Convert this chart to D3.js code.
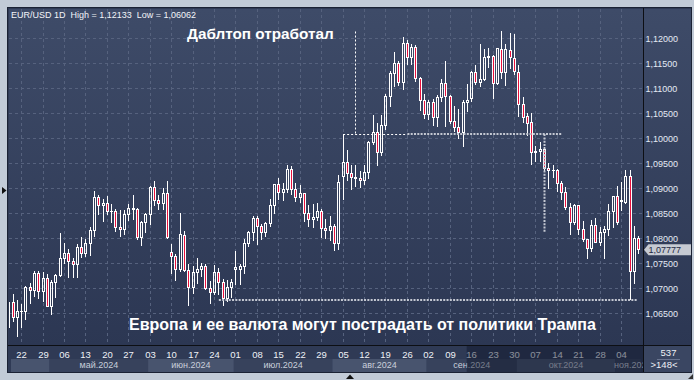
<!DOCTYPE html>
<html><head><meta charset="utf-8">
<script src="https://cdn.jsdelivr.net/npm/d3@7"></script>
<style>
html,body{margin:0;padding:0;background:#c2cbd7;}
svg{display:block;font-family:"Liberation Sans",Arial,sans-serif;}
</style>
</head><body>
<svg id="chart" width="694" height="380"></svg>
<script>
// ---------- DATA ----------
// trading days (category axis) 17 Apr 2024 .. 8 Nov 2024
const dates = d3.timeDays(new Date(2024,3,17), new Date(2024,10,9)).filter(d => d.getDay() % 6 !== 0);
const open = [
1.0622,1.0672,1.0643,1.0655,1.0654,1.0703,1.0697,1.0730,1.0694,1.0720,
1.0665,1.0713,1.0727,1.0761,1.0770,1.0754,1.0748,1.0783,1.0770,1.0790,
1.0817,1.0882,1.0866,1.0871,1.0855,1.0855,1.0822,1.0818,1.0848,1.0860,
1.0858,1.0802,1.0832,1.0848,1.0903,1.0877,1.0871,1.0891,1.0772,1.0765,
1.0739,1.0806,1.0737,1.0703,1.0732,1.0738,1.0745,1.0700,1.0692,1.0733,
1.0713,1.0680,1.0703,1.0738,1.0738,1.0745,1.0790,1.0812,1.0840,1.0825,
1.0813,1.0830,1.0867,1.0908,1.0893,1.0899,1.0938,1.0899,1.0882,1.0890,
1.0850,1.0838,1.0843,1.0855,1.0820,1.0816,1.0825,1.0790,1.0925,1.0952,
1.0930,1.0922,1.0920,1.0916,1.0932,1.0992,1.1012,1.0972,1.1027,1.1085,
1.1130,1.1150,1.1112,1.1191,1.1163,1.1183,1.1120,1.1077,1.1049,1.1073,
1.1043,1.1082,1.1110,1.1085,1.1035,1.1022,1.1013,1.1073,1.1080,1.1133,
1.1113,1.1118,1.1162,1.1165,1.1111,1.1178,1.1133,1.1177,1.1160,1.1133,
1.1068,1.1045,1.1033,1.0973,1.0975,1.0978,1.0940,1.0936,1.0937,1.0910,
1.0892,1.0862,1.0832,1.0866,1.0818,1.0798,1.0780,1.0827,1.0793,1.0813,
1.0818,1.0855,1.0885,1.0877,1.0873,1.0925,1.0735,1.0800];
const high = [
1.0692,1.0690,1.0677,1.0670,1.0705,1.0711,1.0735,1.0736,1.0733,1.0730,
1.0718,1.0730,1.0812,1.0791,1.0779,1.0762,1.0790,1.0804,1.0800,1.0824,
1.0895,1.0887,1.0880,1.0885,1.0869,1.0860,1.0858,1.0858,1.0870,1.0888,
1.0862,1.0836,1.0852,1.0905,1.0915,1.0887,1.0902,1.0916,1.0790,1.0770,
1.0852,1.0815,1.0750,1.0745,1.0761,1.0752,1.0749,1.0716,1.0747,1.0741,
1.0720,1.0718,1.0720,1.0776,1.0750,1.0800,1.0816,1.0845,1.0845,1.0830,
1.0834,1.0880,1.0910,1.0922,1.0912,1.0948,1.0945,1.0912,1.0908,1.0890,
1.0868,1.0870,1.0871,1.0859,1.0839,1.0846,1.0830,1.0927,1.1009,1.0977,
1.0947,1.0947,1.0935,1.0947,1.0995,1.1047,1.1031,1.1048,1.1089,1.1135,
1.1174,1.1155,1.1202,1.1198,1.1190,1.1187,1.1123,1.1090,1.1078,1.1079,
1.1088,1.1120,1.1155,1.1087,1.1066,1.1059,1.1078,1.1110,1.1136,1.1148,
1.1189,1.1180,1.1182,1.1167,1.1182,1.1214,1.1190,1.1210,1.1209,1.1148,
1.1083,1.1052,1.1051,1.0985,1.0994,1.0983,1.0952,1.0948,1.0940,1.0915,
1.0904,1.0871,1.0870,1.0866,1.0836,1.0800,1.0837,1.0842,1.0823,1.0825,
1.0870,1.0885,1.0905,1.0914,1.0937,1.0937,1.0825,1.0806];
const low = [
1.0617,1.0636,1.0606,1.0623,1.0640,1.0671,1.0685,1.0682,1.0675,1.0667,
1.0650,1.0683,1.0725,1.0751,1.0724,1.0723,1.0724,1.0763,1.0765,1.0768,
1.0805,1.0849,1.0835,1.0850,1.0834,1.0816,1.0805,1.0810,1.0838,1.0840,
1.0800,1.0788,1.0814,1.0830,1.0867,1.0860,1.0860,1.0801,1.0732,1.0718,
1.0735,1.0736,1.0668,1.0692,1.0712,1.0725,1.0700,1.0671,1.0690,1.0690,
1.0667,1.0676,1.0683,1.0710,1.0710,1.0732,1.0785,1.0797,1.0790,1.0800,
1.0806,1.0825,1.0852,1.0880,1.0877,1.0893,1.0890,1.0875,1.0874,1.0835,
1.0826,1.0824,1.0838,1.0803,1.0802,1.0797,1.0777,1.0780,1.0880,1.0917,
1.0900,1.0906,1.0904,1.0910,1.0922,1.0990,1.0947,1.0968,1.1020,1.1065,
1.1105,1.1108,1.1100,1.1150,1.1150,1.1115,1.1058,1.1041,1.1040,1.1027,
1.1025,1.1075,1.1026,1.1031,1.1015,1.1001,1.0985,1.1055,1.1075,1.1110,
1.1105,1.1117,1.1143,1.1082,1.1109,1.1122,1.1108,1.1141,1.1130,1.1045,
1.1034,1.1008,1.0950,1.0955,1.0955,1.0935,1.0902,1.0924,1.0895,1.0880,
1.0860,1.0810,1.0830,1.0810,1.0795,1.0761,1.0775,1.0808,1.0788,1.0761,
1.0807,1.0824,1.0830,1.0858,1.0872,1.0680,1.0711,1.0771];
const close = [
1.0672,1.0643,1.0655,1.0654,1.0703,1.0697,1.0730,1.0694,1.0720,1.0665,
1.0713,1.0727,1.0761,1.0770,1.0754,1.0748,1.0783,1.0770,1.0790,1.0817,
1.0882,1.0866,1.0871,1.0855,1.0855,1.0822,1.0818,1.0848,1.0860,1.0858,
1.0802,1.0832,1.0848,1.0903,1.0877,1.0871,1.0891,1.0802,1.0765,1.0739,
1.0809,1.0737,1.0703,1.0732,1.0738,1.0745,1.0700,1.0692,1.0733,1.0713,
1.0680,1.0703,1.0713,1.0742,1.0745,1.0790,1.0812,1.0840,1.0825,1.0813,
1.0830,1.0867,1.0908,1.0893,1.0899,1.0938,1.0899,1.0882,1.0890,1.0850,
1.0838,1.0843,1.0855,1.0820,1.0816,1.0825,1.0790,1.0912,1.0952,1.0930,
1.0922,1.0920,1.0916,1.0932,1.0992,1.1012,1.0972,1.1027,1.1085,1.1130,
1.1150,1.1112,1.1191,1.1163,1.1183,1.1120,1.1077,1.1049,1.1073,1.1043,
1.1082,1.1110,1.1085,1.1035,1.1022,1.1013,1.1073,1.1076,1.1133,1.1113,
1.1118,1.1162,1.1164,1.1111,1.1180,1.1133,1.1178,1.1162,1.1135,1.1069,
1.1043,1.1031,1.0973,1.0975,1.0978,1.0940,1.0936,1.0937,1.0910,1.0892,
1.0862,1.0832,1.0866,1.0818,1.0798,1.0780,1.0827,1.0793,1.0813,1.0818,
1.0855,1.0885,1.0833,1.0875,1.0925,1.0735,1.0800,1.07777];
const yTicks = [1.065,1.070,1.075,1.080,1.085,1.090,1.095,1.100,1.105,1.110,1.115,1.120];
const monthNames = ["янв.","фев.","мар.","апр.","май.","июн.","июл.","авг.","сен.","окт.","ноя.","дек."];
const lastPrice = 1.07777;
const infoText = "EUR/USD 1D  High = 1,12133  Low = 1,06062";
const titleTop = "Даблтоп отработал";
const titleBottom = "Европа и ее валюта могут пострадать от политики Трампа";
// annotation levels
const neckLevel = 1.1009, topLevel = 1.1214, targetLevel = 1.0814, supportLevel = 1.0678;

// ---------- LAYOUT ----------
const W = 694, H = 380;
const L = 9, R = 643, T = 9, B = 345;
const svg = d3.select("#chart");
const fmtD = d3.timeFormat("%Y-%m-%d");
const keys = dates.map(fmtD);
const N = keys.length;
const step = 600/140;
const x = d3.scalePoint().domain(keys).range([8.84, 8.84 + (N-1)*step]);
const y = d3.scaleLinear().domain([1.06, 1.12]).range([338.8, 38.5]);
const px = k => Math.round(x(k) - 0.5);
const crisp = v => Math.round(v) + 0.5;

const defs = svg.append("defs");
const grad = defs.append("linearGradient").attr("id","bg").attr("x1",0).attr("x2",0).attr("y1",0).attr("y2",1);
grad.append("stop").attr("offset","0%").attr("stop-color","#3e4b68");
grad.append("stop").attr("offset","100%").attr("stop-color","#2c3753");
defs.append("clipPath").attr("id","plotclip").append("rect").attr("x",L).attr("y",T).attr("width",R-L).attr("height",B-T);
defs.append("clipPath").attr("id","axclip").append("rect").attr("x",L).attr("y",B).attr("width",R-L).attr("height",28);

// outer frame
svg.append("rect").attr("width",W).attr("height",H).attr("fill","#c2cbd7");
svg.append("rect").attr("x",8).attr("y",8).attr("width",683).attr("height",364).attr("fill","#2f3a55");
svg.append("rect").attr("x",L).attr("y",T).attr("width",R-L).attr("height",B-T).attr("fill","url(#bg)");
svg.append("rect").attr("x",R).attr("y",T).attr("width",691-R).attr("height",B-T).attr("fill","url(#bg)");
svg.append("rect").attr("x",7.5).attr("y",7.5).attr("width",684).attr("height",365).attr("fill","none").attr("stroke","#1b2234");

// grid
const grid = svg.append("g").attr("stroke","#56627e").attr("stroke-dasharray","3,3").attr("stroke-width",1);
grid.selectAll("line.h").data(yTicks).join("line")
  .attr("x1",L).attr("x2",R).attr("y1",d=>crisp(y(d)-0.5)).attr("y2",d=>crisp(y(d)-0.5));
const mondays = dates.filter(d => d.getDay() === 1).map(fmtD);
grid.selectAll("line.v").data(mondays).join("line")
  .attr("x1",d=>px(d)+0.5).attr("x2",d=>px(d)+0.5).attr("y1",T).attr("y2",B);

// candles
const candles = dates.map((d,i) => ({k:keys[i], o:open[i], h:high[i], l:low[i], c:close[i]}));
const cg = svg.append("g").attr("clip-path","url(#plotclip)");
candles.forEach(d => {
  const p = px(d.k);
  const yt = crisp(y(Math.max(d.o,d.c)) - 0.5), yb = crisp(y(Math.min(d.o,d.c)) - 0.5);
  const yh = Math.round(y(d.h)), yl = Math.round(y(d.l));
  cg.append("line").attr("x1",p+0.5).attr("x2",p+0.5).attr("y1",yh).attr("y2",yt).attr("stroke","#fff");
  cg.append("line").attr("x1",p+0.5).attr("x2",p+0.5).attr("y1",yb).attr("y2",yl+1).attr("stroke","#fff");
  if (yb - yt < 1) {
    cg.append("line").attr("x1",p-1).attr("x2",p+2).attr("y1",yt).attr("y2",yt).attr("stroke","#fff");
  } else {
    cg.append("rect").attr("x",p-0.5).attr("y",yt).attr("width",2).attr("height",yb-yt)
      .attr("fill", d.c < d.o ? "#e8103c" : "none").attr("stroke","#fff").attr("stroke-width",1);
  }
});

// annotations
const ann = svg.append("g").attr("clip-path","url(#plotclip)").attr("fill","none");
ann.append("line").attr("x1",x("2024-08-05")).attr("x2",x("2024-08-26"))
  .attr("y1",crisp(y(neckLevel))).attr("y2",crisp(y(neckLevel)))
  .attr("stroke","#ffffff").attr("stroke-dasharray","2,2");
ann.append("line").attr("x1",px("2024-08-08")+0.5).attr("x2",px("2024-08-08")+0.5)
  .attr("y1",y(topLevel)).attr("y2",y(neckLevel))
  .attr("stroke","#ffffff").attr("stroke-dasharray","2,2");
const thick = {stroke:"#c4c8d2", w:2, dash:"2,1.3"};
ann.append("line").attr("x1",x("2024-08-26")).attr("x2",x("2024-10-15"))
  .attr("y1",Math.round(y(neckLevel))).attr("y2",Math.round(y(neckLevel)))
  .attr("stroke",thick.stroke).attr("stroke-width",thick.w).attr("stroke-dasharray",thick.dash);
ann.append("line").attr("x1",px("2024-10-09")+0.5).attr("x2",px("2024-10-09")+0.5)
  .attr("y1",y(neckLevel)).attr("y2",y(targetLevel))
  .attr("stroke",thick.stroke).attr("stroke-width",thick.w).attr("stroke-dasharray",thick.dash);
ann.append("line").attr("x1",x("2024-06-25")).attr("x2",x("2024-11-08")-2)
  .attr("y1",Math.round(y(supportLevel))).attr("y2",Math.round(y(supportLevel)))
  .attr("stroke",thick.stroke).attr("stroke-width",thick.w).attr("stroke-dasharray",thick.dash);

// titles
svg.append("text").attr("x",187).attr("y",39).attr("fill","#fff").attr("font-weight","bold")
  .attr("font-size",15.3).text(titleTop);
svg.append("text").attr("x",129).attr("y",329.5).attr("fill","#fff").attr("font-weight","bold")
  .attr("font-size",16).text(titleBottom);
svg.append("text").attr("x",11).attr("y",18).attr("fill","#f2f4f8").attr("font-size",9)
  .attr("xml:space","preserve").text(infoText);

// axis lines
svg.append("line").attr("x1",R+0.5).attr("x2",R+0.5).attr("y1",8).attr("y2",372).attr("stroke","#0d0f14");
svg.append("line").attr("x1",8).attr("x2",691).attr("y1",B+0.5).attr("y2",B+0.5).attr("stroke","#0d0f14");

// y labels
const fmtP = v => d3.format(".5f")(v).replace(".", ",");
svg.append("g").selectAll("text").data(yTicks).join("text")
  .attr("x",645.5).attr("y",d=>y(d)+3).attr("fill","#e4eaf4").attr("font-size",9).text(fmtP);

// last price tag
const yp = y(lastPrice);
svg.append("path").attr("d",`M644,${yp} L648.5,${yp-5.5} L691,${yp-5.5} L691,${yp+5.5} L648.5,${yp+5.5} Z`)
  .attr("fill","#c6cad2");
svg.append("text").attr("x",648.5).attr("y",yp+3.2).attr("fill","#1d2842").attr("font-size",9).text(fmtP(lastPrice));

// x axis: month bands
const months = d3.groups(keys, k => k.slice(0,7));
const bandG = svg.append("g").attr("clip-path","url(#axclip)");
months.forEach(([m, ks], i) => {
  const x0 = Math.max(11, x(ks[0]) - step/2), x1 = x(ks[ks.length-1]) + step/2;
  bandG.append("rect").attr("x",x0).attr("y",359).attr("width",x1-x0).attr("height",13)
    .attr("fill", i % 2 === 0 ? "#48546e" : "#37425c");
  const mi = +m.slice(5,7) - 1;
  const label = monthNames[mi] + m.slice(0,4);
  if (i > 0) {
    const cx = i === months.length - 1 ? x0 + 17.5 : (x0 + x1) / 2;
    bandG.append("text").attr("x",cx).attr("y",367.7).attr("text-anchor","middle")
      .attr("fill","#c8cfdb").attr("font-size",9).text(label);
  }
});
// day labels
svg.append("g").selectAll("text").data(mondays).join("text")
  .attr("x",d=>px(d)+0.5).attr("y",357.5).attr("text-anchor","middle")
  .attr("fill","#eef1f6").attr("font-size",9.5).text(d=>d.slice(8,10));
// dim overlay
svg.append("rect").attr("x",466.7).attr("y",346).attr("width",R-466.7).attr("height",26)
  .attr("fill","#0e1528").attr("opacity",0.45);
svg.append("rect").attr("x",R+1).attr("y",346).attr("width",691-R-1).attr("height",26).attr("fill","#3a4662");
svg.append("text").attr("x",668.5).attr("y",355.7).attr("text-anchor","middle").attr("fill","#eef1f6")
  .attr("font-size",9.5).text(String(537));
svg.append("line").attr("x1",657).attr("x2",680).attr("y1",359.5).attr("y2",359.5).attr("stroke","#6a7590");
svg.append("text").attr("x",664).attr("y",368.3).attr("text-anchor","middle").attr("fill","#eef1f6")
  .attr("font-size",9.5).text(">" + N + "<");

// small markers
svg.append("path").attr("d","M2,187 L6.5,190.5 L2,194 Z").attr("fill","#111");
svg.append("path").attr("d","M346,379 L350,374.5 L354,379 Z").attr("fill","#111");
svg.append("path").attr("d","M693,374 L693,379 L688,379 Z").attr("fill","#333");
</script>
</body></html>
